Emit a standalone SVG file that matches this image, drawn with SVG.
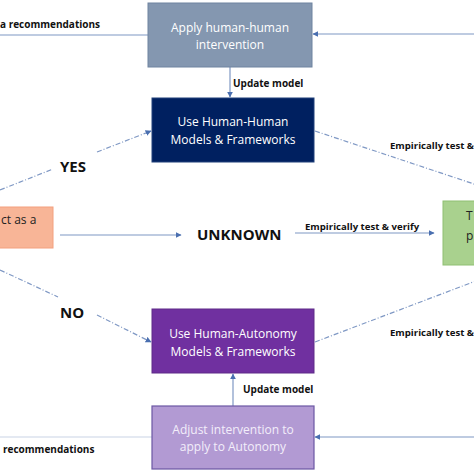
<svg xmlns="http://www.w3.org/2000/svg" width="474" height="474" viewBox="0 0 474 474">
<style>
.box{font-family:"Open Sans","DejaVu Sans",sans-serif;font-size:12px;fill:#ffffff;text-anchor:middle}
.lbl{font-family:"Open Sans","DejaVu Sans",sans-serif;font-size:10px;font-weight:bold;fill:#111111}
.big{font-family:"Open Sans","DejaVu Sans",sans-serif;font-size:15px;font-weight:bold;fill:#111111}
.ln{stroke:#7f98c4;stroke-width:1.2;fill:none}
.dl{stroke:#7f98c4;stroke-width:1.2;fill:none;stroke-dasharray:5 2 1 2}
</style>
<defs>
<marker id="ah" viewBox="0 0 10 10" refX="9" refY="5" markerWidth="6" markerHeight="6" orient="auto" markerUnits="userSpaceOnUse">
<path d="M0,0 L10,5 L0,10 z" fill="#4a6fb0"/>
</marker>
</defs>
<rect width="474" height="474" fill="#ffffff"/>

<g id="connectors">
<line class="ln" x1="474" y1="34" x2="313" y2="34" marker-end="url(#ah)"/>
<line class="ln" x1="148" y1="35" x2="0" y2="35"/>
<line class="ln" x1="230" y1="67" x2="230" y2="97" marker-end="url(#ah)"/>
<line class="dl" x1="0" y1="190" x2="53" y2="169"/>
<line class="dl" x1="97" y1="152" x2="151" y2="131" marker-end="url(#ah)"/>
<line class="ln" x1="60" y1="235" x2="181" y2="235" marker-end="url(#ah)"/>
<line class="ln" x1="295" y1="233" x2="434" y2="233" marker-end="url(#ah)"/>
<line class="dl" x1="315" y1="131" x2="510" y2="196"/>
<line class="dl" x1="0" y1="270" x2="58" y2="297"/>
<line class="dl" x1="97" y1="315" x2="151" y2="342" marker-end="url(#ah)"/>
<line class="dl" x1="315" y1="342" x2="510" y2="268"/>
<line class="ln" x1="233" y1="406" x2="233" y2="374" marker-end="url(#ah)"/>
<line class="ln" x1="474" y1="437" x2="315" y2="437" marker-end="url(#ah)"/>
<line class="ln" x1="152" y1="437" x2="0" y2="437" style="stroke:#c9d3e6"/>
<text class="lbl" x="0" y="28">a recommendations</text>
<text class="lbl" x="233" y="87">Update model</text>
<text class="big" x="60" y="172">YES</text>
<text class="big" x="197" y="240">UNKNOWN</text>
<text class="lbl" x="305" y="230" style="font-size:9.6px">Empirically test &amp; verify</text>
<text class="lbl" x="390" y="149" style="font-size:9.6px">Empirically test &amp;</text>
<text class="big" x="60" y="318">NO</text>
<text class="lbl" x="390" y="336" style="font-size:9.6px">Empirically test &amp;</text>
<text class="lbl" x="243" y="393">Update model</text>
<text class="lbl" x="3" y="453">recommendations</text>
</g>

<g id="apply-hh">
<rect x="148" y="3" width="164" height="64" fill="#8497b0" stroke="#6f83a0" stroke-width="1"/>
<text class="box" x="230" y="32">Apply human-human</text>
<text class="box" x="230" y="49">intervention</text>
</g>

<g id="use-hh">
<rect x="152" y="98" width="162" height="64" fill="#002060" stroke="#21407a" stroke-width="1"/>
<text class="box" x="233" y="126">Use Human-Human</text>
<text class="box" x="233" y="144">Models &amp; Frameworks</text>
</g>

<g id="orange">
<rect x="-5" y="207" width="58" height="41" fill="#f8b597" stroke="#f3a07f" stroke-width="1"/>
<text class="box" x="1" y="224" style="fill:#222222;text-anchor:start">ct as a</text>
</g>

<g id="green">
<rect x="443" y="201" width="60" height="64" fill="#a9d18e" stroke="#8fbf73" stroke-width="1"/>
<text class="box" x="466" y="220" style="fill:#222222;text-anchor:start">T</text>
<text class="box" x="466" y="240" style="fill:#222222;text-anchor:start">p</text>
</g>

<g id="use-ha">
<rect x="152" y="309" width="162" height="64" fill="#7030a0" stroke="#5e2a88" stroke-width="1"/>
<text class="box" x="233" y="338">Use Human-Autonomy</text>
<text class="box" x="233" y="356">Models &amp; Frameworks</text>
</g>

<g id="adjust">
<rect x="152" y="406" width="162" height="63" fill="#b29ad3" stroke="#6c58a4" stroke-width="1.2"/>
<text class="box" x="233" y="434" style="fill:#f3eefa">Adjust intervention to</text>
<text class="box" x="233" y="451" style="fill:#f3eefa">apply to Autonomy</text>
</g>
</svg>
